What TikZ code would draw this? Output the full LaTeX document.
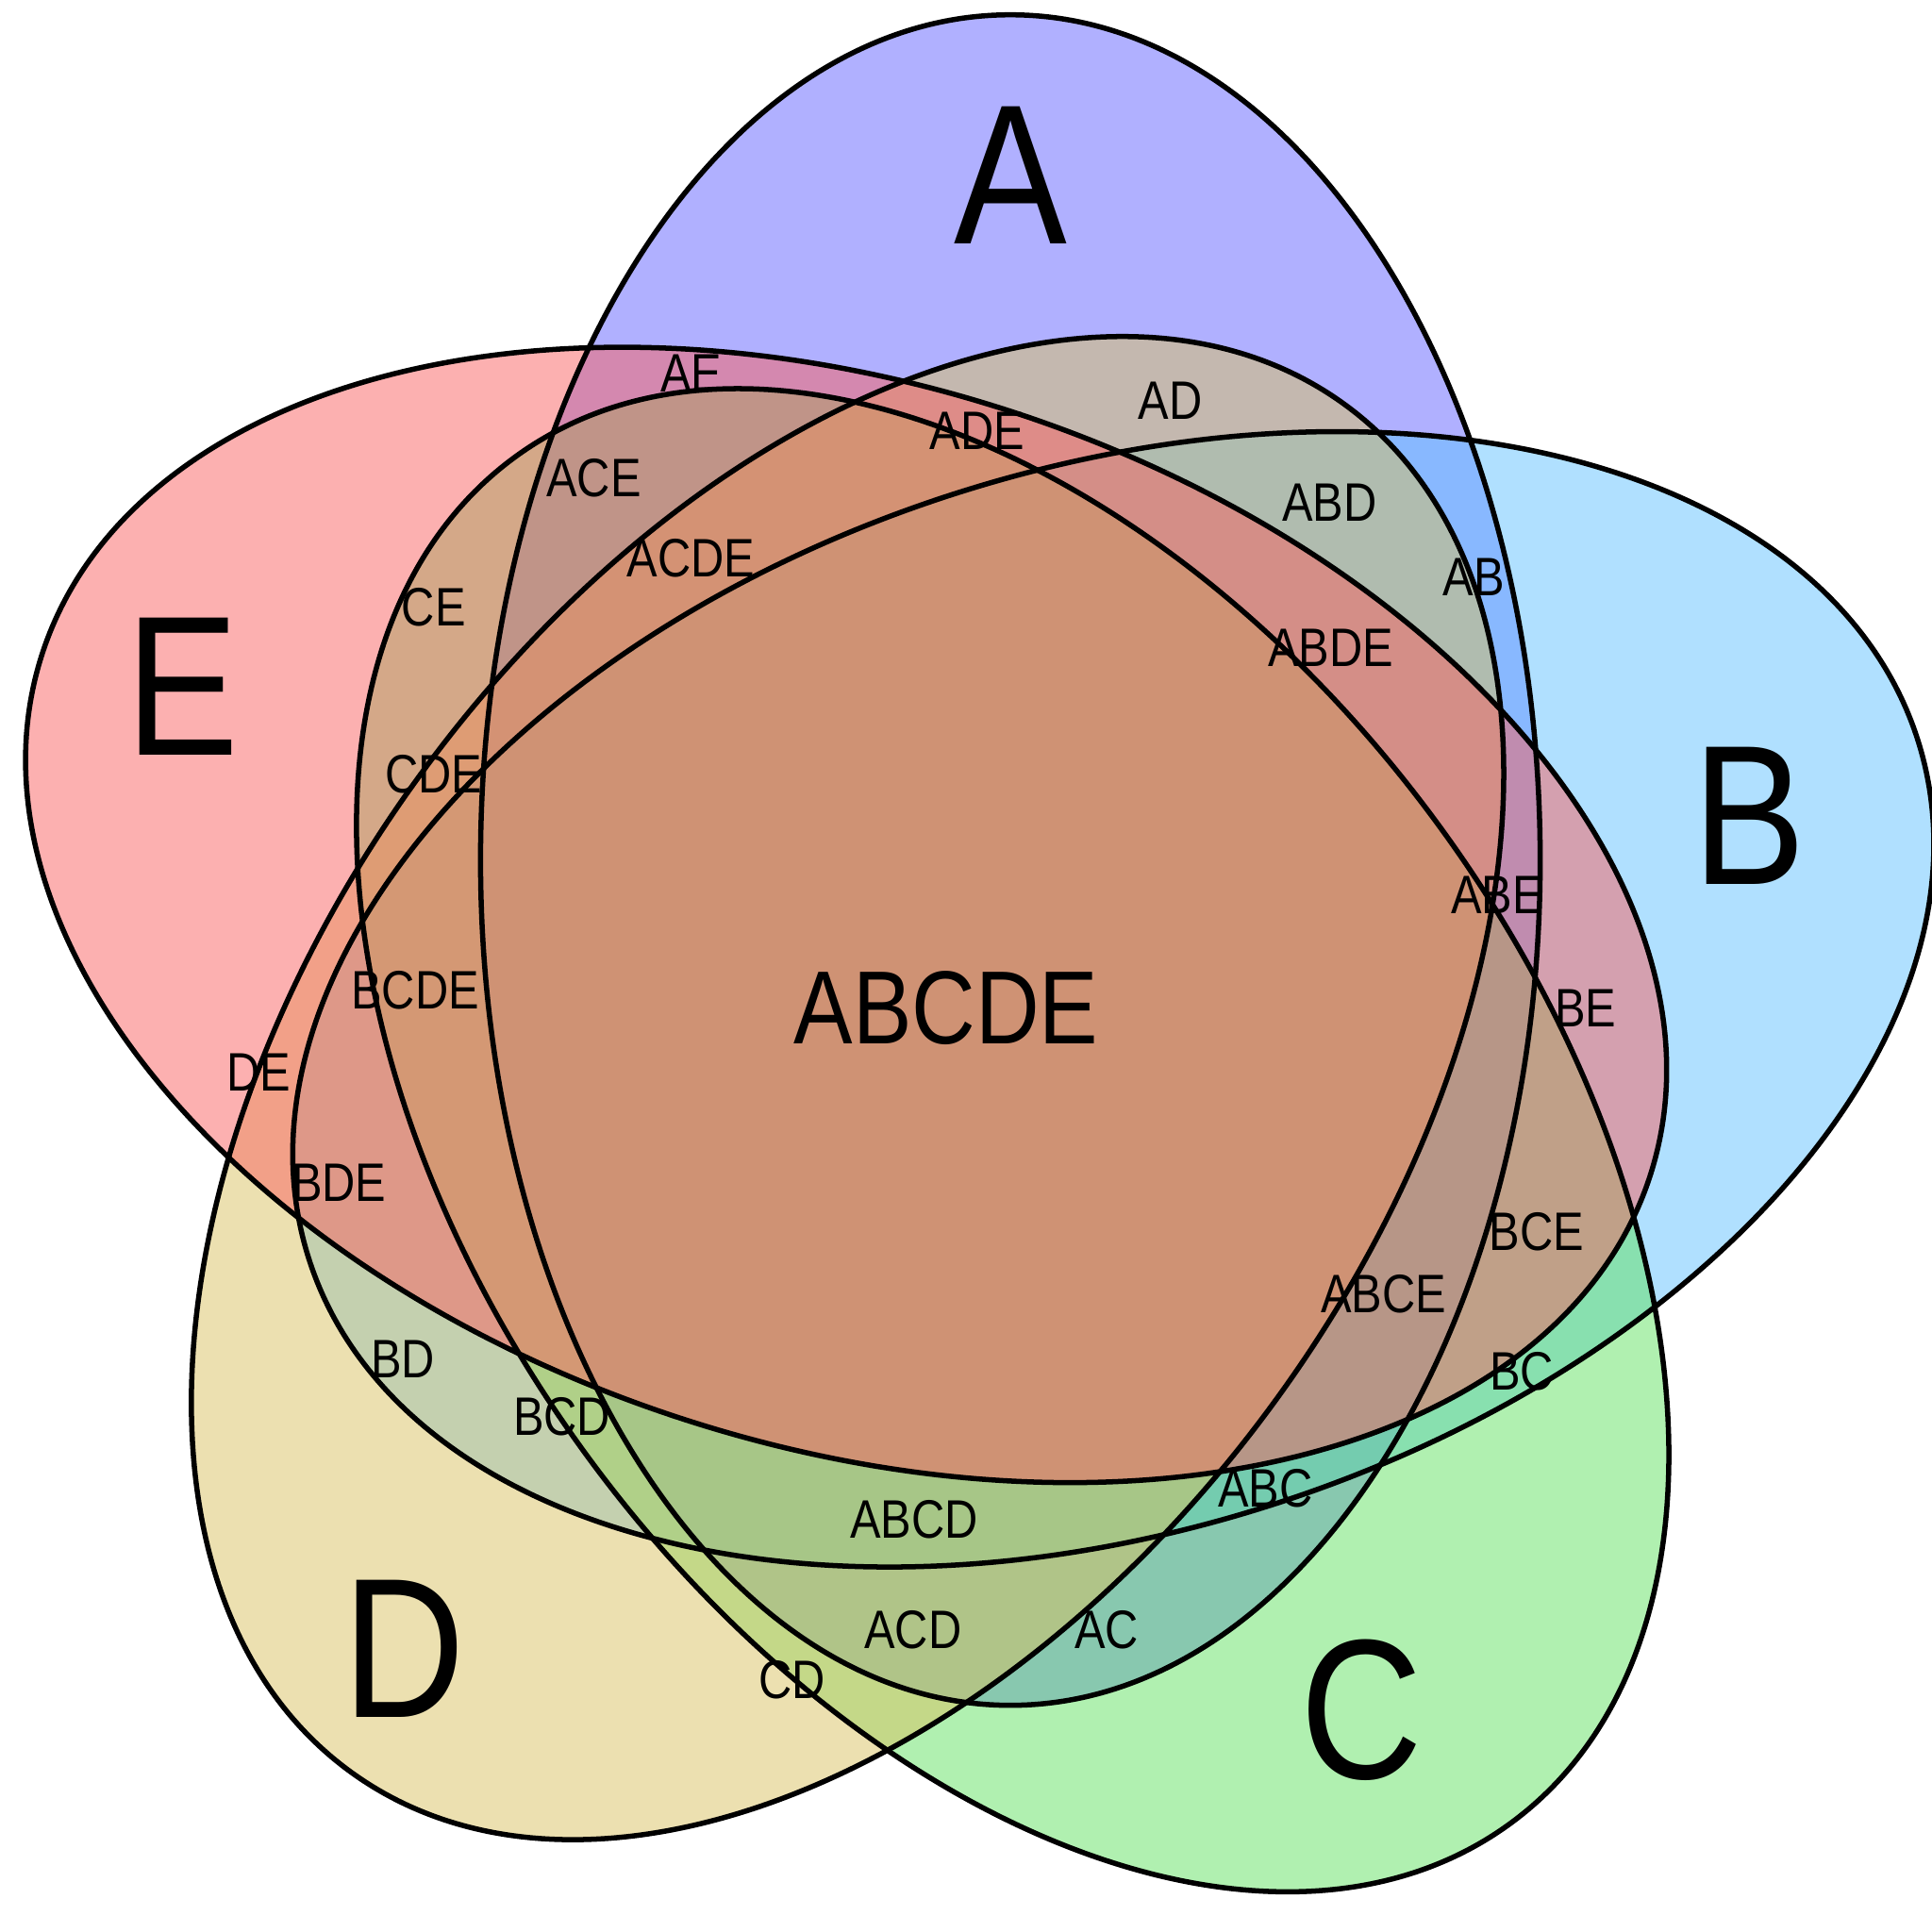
\documentclass[tikz,border=0pt]{standalone}
\usepackage{fontspec}
\setmainfont{Liberation Sans}
\begin{document}
\begin{tikzpicture}[x=0.01cm,y=-0.01cm]
\definecolor{cA}{RGB}{97,97,255}
\definecolor{cB}{RGB}{97,193,255}
\definecolor{cC}{RGB}{97,225,97}
\definecolor{cD}{RGB}{217,193,97}
\definecolor{cE}{RGB}{249,97,97}
\tikzset{set/.style={fill opacity=0.5},edge/.style={draw=black,line width=1.2pt},
 big/.style={font=\fontsize{46}{46}\selectfont,xscale=0.85},
 lab/.style={font=\fontsize{12.5}{12.5}\selectfont,xscale=0.85},
 mid/.style={font=\fontsize{24}{24}\selectfont,xscale=0.85}}
\useasboundingbox (0,0) rectangle (1568,1568);
\coordinate (c) at (784,812);
\foreach \ang/\col in {0/cA,-72/cB,-144/cC,-216/cD,-288/cE}{
  \fill[set,fill=\col,rotate around={\ang:(c)}] (820,698) ellipse [x radius=430,y radius=686];
}
\foreach \ang in {0,72,144,216,288}{
  \draw[edge,rotate around={\ang:(c)}] (820,698) ellipse [x radius=430,y radius=686];
}
\node[big] (tA) at (820,142) {A};
\node[big] (tB) at (1420,662) {B};
\node[big] (tC) at (1105,1388) {C};
\node[big] (tD) at (328,1338) {D};
\node[big] (tE) at (148,557) {E};
\node[mid] (tABCDE) at (768,818) {ABCDE};
\foreach \t/\x/\y in {AE/561/303,AD/950/325,ADE/793/350,ACE/482/388,ABD/1079/408,ACDE/561/453,
 AB/1196/468,CE/352/493,ABDE/1080/526,CDE/352/628,ABE/1215/726,BCDE/337/804,BE/1287/818,
 DE/210/870,BDE/275/960,BCE/1247/1000,ABCE/1123/1050,BD/327/1103,BC/1235/1113,BCD/456/1150,
 ABC/1027/1208,ABCD/742/1233,ACD/741/1323,AC/898/1323,CD/643/1363}{
  \node[lab] (l\t) at (\x,\y) {\t};
}
\end{tikzpicture}
\end{document}
